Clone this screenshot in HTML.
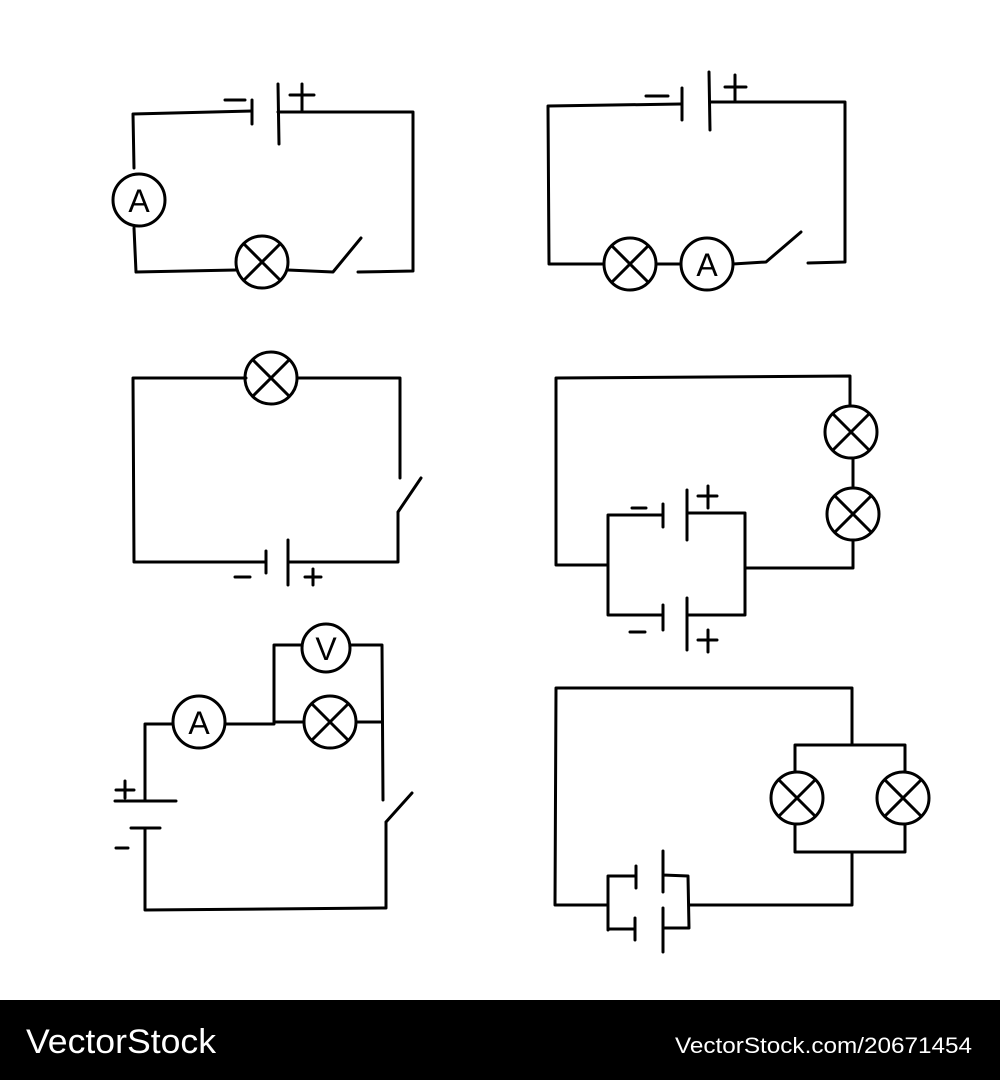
<!DOCTYPE html>
<html><head><meta charset="utf-8"><style>
html,body{margin:0;padding:0;background:#fff;width:1000px;height:1080px;overflow:hidden}
svg{display:block}
</style></head><body>
<svg width="1000" height="1080" viewBox="0 0 1000 1080" xmlns="http://www.w3.org/2000/svg">
<rect width="1000" height="1000" fill="#fff"/>
<g fill="none" stroke="#000" stroke-width="3" stroke-linecap="round" stroke-linejoin="round">
<!-- Circuit 1 -->
<path d="M252 111 L133 114 L134 168 M134 228 L136 272 L236 270 M288 270 L333 272 L361 238 M358 272 L413 271 L413 112 L278 112"/>
<path d="M252 100 L252 124 M278 84 L279 144 M225 100 L245 100 M290 95 L314 95 M302 84 L302 110"/>
<circle cx="139" cy="200" r="26"/>
<circle cx="262" cy="262" r="26"/><path d="M244 244 L280 280 M280 244 L244 280"/>
<!-- Circuit 2 -->
<path d="M681 104 L548 106 L549 264 L604 264 M656 264 L681 264 M733 264 L766 262 L801 232 M808 263 L845 262 L845 102 L710 102"/>
<path d="M682 88 L682 120 M709 72 L710 130 M646 96 L668 96 M725 87 L746 87 M735 75 L735 100"/>
<circle cx="630" cy="264" r="26"/><path d="M612 246 L648 282 M648 246 L612 282"/>
<circle cx="707" cy="264" r="26"/>
<!-- Circuit 3 -->
<path d="M246 378 L133 378 L134 562 L266 562 M297 378 L400 378 L400 478 M398 512 L421 478 M398 512 L398 562 L288 562"/>
<path d="M266 551 L266 573 M288 540 L288 585 M235 577 L250 577 M305 577 L321 577 M313 569 L313 585"/>
<circle cx="271" cy="378" r="26"/><path d="M253 360 L289 396 M289 360 L253 396"/>
<!-- Circuit 4 -->
<path d="M556 565 L556 378 L850 376 L850 406 M853 458 L853 488 M853 540 L853 568 L745 568 M556 565 L608 565"/>
<path d="M608 515 L608 615 M608 515 L663 515 M687 513 L745 513 L745 615 L687 615 M608 615 L663 615"/>
<path d="M663 504 L663 527 M687 490 L687 540 M663 605 L663 630 M687 598 L687 650 M632 508 L646 508 M698 496 L717 496 M708 486 L708 508 M630 632 L645 632 M698 640 L717 640 M708 630 L708 652"/>
<circle cx="851" cy="432" r="26"/><path d="M833 414 L869 450 M869 414 L833 450"/>
<circle cx="853" cy="514" r="26"/><path d="M835 496 L871 532 M871 496 L835 532"/>
<!-- Circuit 5 -->
<path d="M302 645 L274 645 L274 724 L225 724 M173 724 L145 724 L145 800 M145 828 L145 910 L386 908 L386 822 M386 822 L412 793 M350 645 L382 645 L383 800 M274 722 L304 722 M356 722 L382 722"/>
<path d="M115 801 L176 801 M131 828 L160 828 M116 790 L134 790 M125 781 L125 798 M116 848 L128 848"/>
<circle cx="326" cy="648" r="24"/>
<circle cx="330" cy="722" r="26"/><path d="M312 704 L348 740 M348 704 L312 740"/>
<circle cx="199" cy="722" r="26"/>
<!-- Circuit 6 -->
<path d="M608 905 L555 905 L556 688 L852 688 L852 745 M795 745 L905 745 L905 772 M905 824 L905 852 L795 852 L795 824 M795 772 L795 745 M852 852 L852 905 L689 905"/>
<path d="M608 876 L608 930 M608 876 L636 876 M636 866 L636 888 M663 851 L663 892 M663 875 L688 876 L689 928 L663 928 M608 929 L634 929 M635 918 L635 940 M663 908 L663 952"/>
<circle cx="797" cy="798" r="26"/><path d="M779 780 L815 816 M815 780 L779 816"/>
<circle cx="903" cy="798" r="26"/><path d="M885 780 L921 816 M921 780 L885 816"/>
</g>
<g font-family="Liberation Sans, sans-serif" font-size="32" text-anchor="middle" fill="#000">
<text x="139" y="212">A</text>
<text x="707" y="276">A</text>
<text x="199" y="734">A</text>
<text x="326" y="660">V</text>
</g>
<rect x="0" y="1000" width="1000" height="80" fill="#000"/>
<text x="26" y="1053" font-family="Liberation Sans, sans-serif" font-size="34" fill="#fff" textLength="190" lengthAdjust="spacingAndGlyphs">VectorStock</text>
<text x="972" y="1053" text-anchor="end" font-family="Liberation Sans, sans-serif" font-size="22" fill="#fff" textLength="297" lengthAdjust="spacingAndGlyphs">VectorStock.com/20671454</text>
</svg>
</body></html>
